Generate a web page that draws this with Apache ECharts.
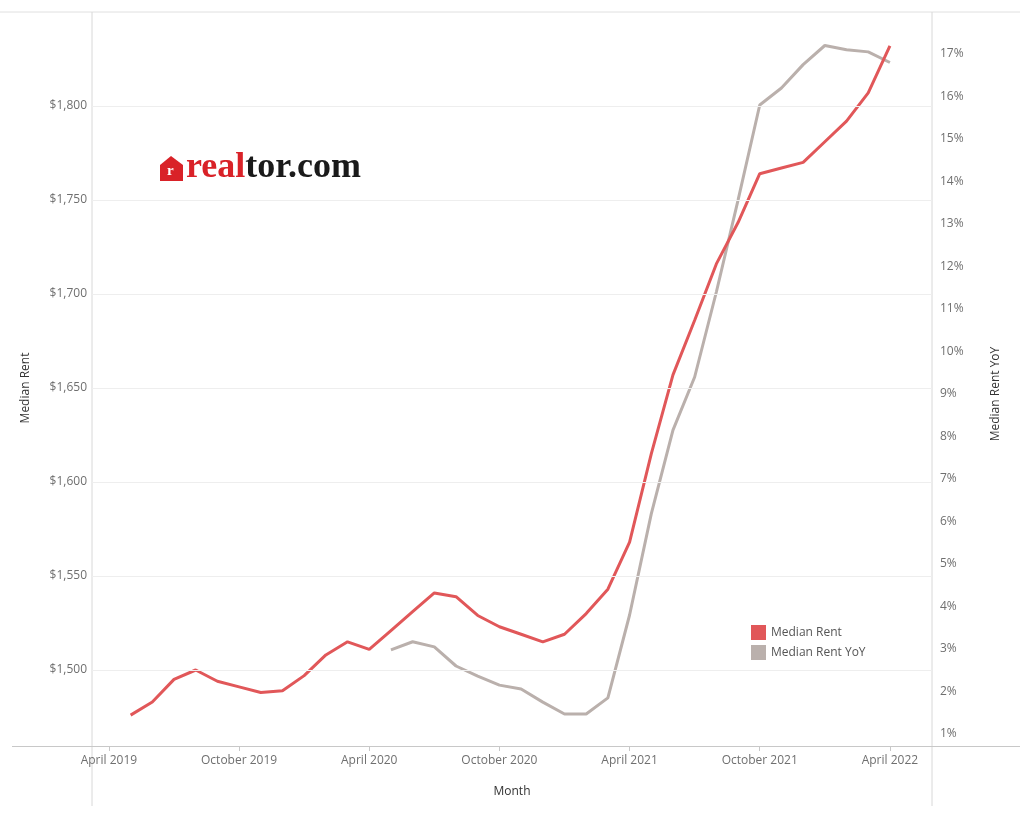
<!DOCTYPE html>
<html>
<head>
<meta charset="utf-8">
<script src="https://cdn.jsdelivr.net/npm/echarts@6/dist/echarts.min.js"></script>
<style>html,body{margin:0;padding:0;background:#fff}#chart{width:1024px;height:819px}</style>
</head>
<body>
<div id="chart"></div>
<script>
// month index 0 = April 2019
var monthNames = ['January','February','March','April','May','June','July','August','September','October','November','December'];
var tickMonths = [0, 6, 12, 18, 24, 30, 36];
// Median Rent, May 2019 .. April 2022
var rentStart = 1;
var rent = [1476,1483,1495,1500,1494,1491,1488,1489,1497,1508,1515,1511,
            1521,1531,1541,1539,1529,1523,1519,1515,1519,1530,1543,
            1568,1615,1657,1686,1716,1738,1764,1767,1770,1781,1792,1807,1832];
// Median Rent YoY (%), May 2020 .. April 2022
var yoyStart = 13;
var yoy = [2.98,3.17,3.05,2.6,2.36,2.15,2.06,1.75,1.47,1.47,1.85,
           3.8,6.18,8.15,9.4,11.4,13.56,15.8,16.2,16.75,17.2,17.1,17.05,16.8];
var rentGrid = [1500,1550,1600,1650,1700,1750,1800];

function monthLabel(i){
  var m = (3 + i) % 12, y = 2019 + Math.floor((3 + i) / 12);
  return monthNames[m] + ' ' + y;
}
var rentData = rent.map(function(v,i){ return [rentStart + i, v]; });
var yoyData = yoy.map(function(v,i){ return [yoyStart + i, v]; });

var chart = echarts.init(document.getElementById('chart'));
var txt = '#6f6f6f';
chart.setOption({
  animation: false,
  textStyle: {fontFamily: '"Open Sans", Lato, sans-serif'},
  grid: [
    {left: 92, right: 92, top: 12, bottom: 55},
    {left: 92, right: 92, top: 11.5, bottom: 42.5}
  ],
  xAxis: [
    {type: 'value', gridIndex: 0, min: -0.78, max: 37.94, offset: -18,
     axisLine: {show: true, lineStyle: {color: '#c8c8c8'}},
     axisTick: {show: true, length: 5, lineStyle: {color: '#c8c8c8'}, customValues: tickMonths},
     axisLabel: {color: txt, fontSize: 12, margin: 9, customValues: tickMonths, formatter: function(v){ return monthLabel(Math.round(v)); }},
     splitLine: {show: false},
     name: 'Month', nameLocation: 'middle', nameGap: 40,
     nameTextStyle: {color: '#333', fontSize: 12}},
    {type: 'value', gridIndex: 1, min: -0.78, max: 37.94, show: false}
  ],
  yAxis: [
    {type: 'value', gridIndex: 0, min: 1450, max: 1850, interval: 50,
     axisLine: {show: false}, axisTick: {show: false}, splitLine: {show: false},
     axisLabel: {color: txt, fontSize: 12, margin: 5, formatter: function(v){
       return (v < 1500 || v > 1800) ? '' : '$' + v.toLocaleString('en-US'); }},
     name: 'Median Rent', nameLocation: 'middle', nameGap: 60, nameRotate: 90,
     nameTextStyle: {color: '#333', fontSize: 12}},
    {type: 'value', gridIndex: 1, position: 'right', min: 0, max: 18, interval: 1,
     axisLine: {show: false}, axisTick: {show: false}, splitLine: {show: false},
     axisLabel: {color: txt, fontSize: 12, margin: 8, formatter: function(v){
       return (v < 1 || v > 17) ? '' : v + '%'; }},
     name: 'Median Rent YoY', nameLocation: 'middle', nameGap: 58, nameRotate: 90,
     nameTextStyle: {color: '#333', fontSize: 12}}
  ],
  legend: {
    left: 746, top: 620, orient: 'vertical', itemGap: 5,
    itemWidth: 15, itemHeight: 15, icon: 'rect',
    textStyle: {color: '#555', fontSize: 12},
    data: ['Median Rent', 'Median Rent YoY']
  },
  graphic: [
    {type: 'line', shape: {x1: 0, y1: 12, x2: 1020, y2: 12}, style: {stroke: '#e0e0e0', lineWidth: 1}, z: 0},
    {type: 'line', shape: {x1: 92, y1: 12, x2: 92, y2: 806}, style: {stroke: '#d8d8d8', lineWidth: 1}, z: 0},
    {type: 'line', shape: {x1: 932, y1: 12, x2: 932, y2: 806}, style: {stroke: '#d8d8d8', lineWidth: 1}, z: 0},
    {type: 'line', shape: {x1: 12, y1: 746.5, x2: 1020, y2: 746.5}, style: {stroke: '#c8c8c8', lineWidth: 1}, z: 0},
    {type: 'polygon', shape: {points: [[160,181],[160,165],[171,156],[183,165],[183,181]]}, style: {fill: '#d92228'}},
    {type: 'text', left: 167, top: 164, style: {text: 'r', fill: '#fff', font: 'bold 15px "Liberation Serif", serif'}},
    {type: 'text', left: 186, top: 150, style: {
      rich: {a: {fill: '#d92228', font: 'bold 36px "Liberation Serif", serif'},
             b: {fill: '#1a1a1a', font: 'bold 36px "Liberation Serif", serif'}},
      text: '{a|real}{b|tor.com}'}}
  ],
  series: [
    {name: 'Median Rent', type: 'line', xAxisIndex: 0, yAxisIndex: 0, data: rentData,
     showSymbol: false, color: '#e15759', lineStyle: {width: 3}, z: 3,
     markLine: {silent: true, symbol: 'none', label: {show: false},
       lineStyle: {color: '#eeeeee', width: 1, type: 'solid'},
       data: rentGrid.map(function(v){ return {yAxis: v}; })}},
    {name: 'Median Rent YoY', type: 'line', xAxisIndex: 1, yAxisIndex: 1, data: yoyData,
     showSymbol: false, color: '#bab0ac', lineStyle: {width: 3}, z: 2}
  ]
});
</script>
</body>
</html>
